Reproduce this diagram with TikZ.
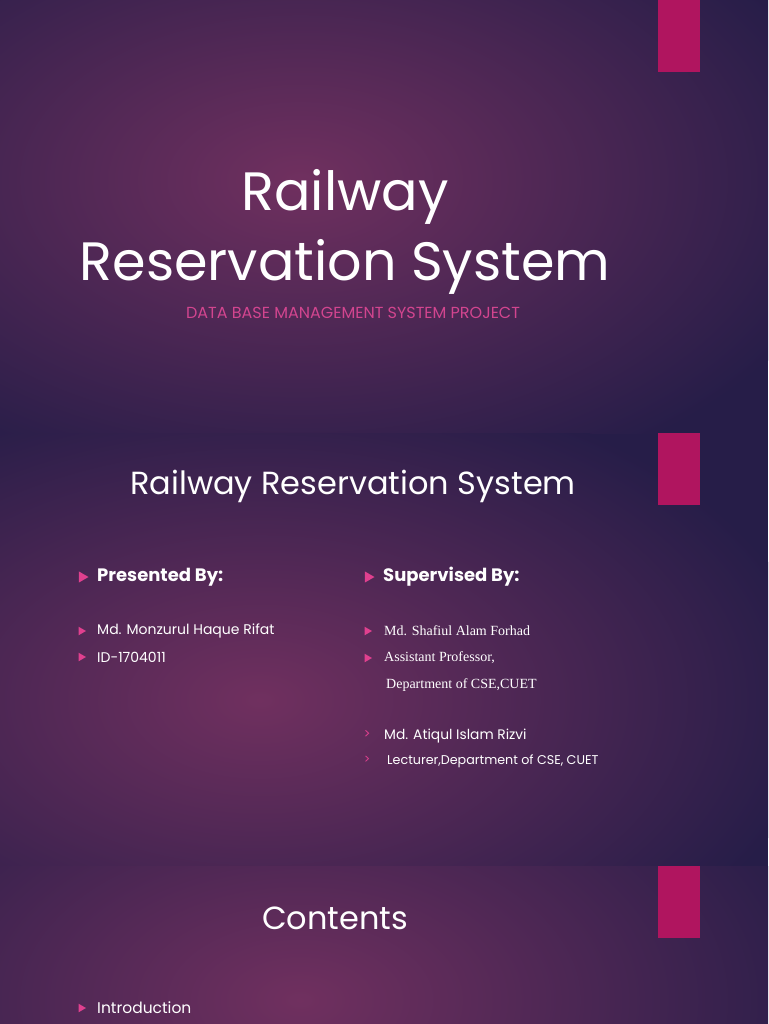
\documentclass[tikz,border=0pt]{standalone}
\usepackage{fontspec}
\setmainfont{Poppins}[Ligatures=NoCommon]
\newfontfamily\serifx{Liberation Serif}
\definecolor{bgdark}{HTML}{261D48}
\definecolor{glow}{HTML}{70305F}
\definecolor{accent}{HTML}{B0155F}
\definecolor{subpink}{HTML}{D2458F}
\definecolor{bul}{HTML}{E0408F}
\usetikzlibrary{shapes.geometric}
\tikzset{
  acc/.style={fill=accent,draw=none},
  txt/.style={text=white,inner sep=0,anchor=west},
  tri/.style={fill=bul,draw=none,regular polygon,regular polygon sides=3,shape border rotate=-90,minimum size=13pt,inner sep=0},
  trismall/.style={tri,minimum size=10pt}
}
\begin{document}
\begin{tikzpicture}[x=1pt,y=-1pt]
\useasboundingbox (0,0) rectangle (768,1024);
\fill[bgdark] (0,0) rectangle (768,1024);
\begin{scope}
\clip (0,0) rectangle (768,433);
\shade[inner color=glow,outer color=bgdark] (300,180) ellipse (560 and 330);
\end{scope}
\begin{scope}
\clip (0,433) rectangle (768,866);
\shade[inner color=glow,outer color=bgdark] (260,700) ellipse (560 and 330);
\end{scope}
\begin{scope}
\clip (0,866) rectangle (768,1024);
\shade[inner color=glow,outer color=bgdark] (300,1000) ellipse (560 and 330);
\end{scope}
\node[acc,minimum width=42,minimum height=72,anchor=north west] (a1) at (658,0) {};
\node[acc,minimum width=42,minimum height=72,anchor=north west] (a2) at (658,433) {};
\node[acc,minimum width=42,minimum height=72,anchor=north west] (a3) at (658,866) {};
% slide 1
\node[text=white,font=\fontsize{54}{54}\selectfont] (t1) at (345,197) {Railway};
\node[text=white,font=\fontsize{54}{54}\selectfont] (t2) at (345,267) {Reservation System};
\node[text=subpink,font=\fontsize{16}{16}\selectfont] (t3) at (353,313) {DATA BASE MANAGEMENT SYSTEM PROJECT};
% slide 2
\node[text=white,font=\fontsize{32}{32}\selectfont] (s2) at (353,486) {Railway Reservation System};
\node[tri] (b1) at (82,577) {};
\node[txt,font=\fontsize{18}{18}\selectfont\bfseries] (p1) at (97,577) {Presented By:};
\node[tri] (b2) at (368,577) {};
\node[txt,font=\fontsize{18}{18}\selectfont\bfseries] (p2) at (383,577) {Supervised By:};
\node[trismall] (c1) at (81,631) {};
\node[txt,font=\fontsize{14}{14}\selectfont] (q1) at (97,631) {Md. Monzurul Haque Rifat};
\node[trismall] (c2) at (81,657) {};
\node[txt,font=\fontsize{14}{14}\selectfont] (q2) at (97,657) {ID-1704011};
\node[trismall] (c3) at (367,631) {};
\node[txt,font=\serifx\fontsize{14}{14}\selectfont] (r1) at (384,631) {Md. Shafiul Alam Forhad};
\node[trismall] (c4) at (367,658) {};
\node[txt,font=\serifx\fontsize{14}{14}\selectfont] (r2) at (384,658) {Assistant Professor,};
\node[txt,font=\serifx\fontsize{14}{14}\selectfont] (r3) at (386,685) {Department of CSE,CUET};
\node[text=bul,inner sep=0,font=\fontsize{13}{13}\selectfont] (c5) at (367,735) {>};
\node[txt,font=\fontsize{13.8}{13.8}\selectfont] (r4) at (384,736) {Md. Atiqul Islam Rizvi};
\node[text=bul,inner sep=0,font=\fontsize{12}{12}\selectfont] (c6) at (367,760) {>};
\node[txt,font=\fontsize{12.7}{12.7}\selectfont] (r5) at (387,761) {Lecturer,Department of CSE, CUET};
% slide 3
\node[text=white,font=\fontsize{32}{32}\selectfont] (s3) at (335,918) {Contents};
\node[trismall] (c7) at (81,1008) {};
\node[txt,font=\fontsize{15.5}{15.5}\selectfont] (i1) at (97,1008) {Introduction};
\end{tikzpicture}
\end{document}
